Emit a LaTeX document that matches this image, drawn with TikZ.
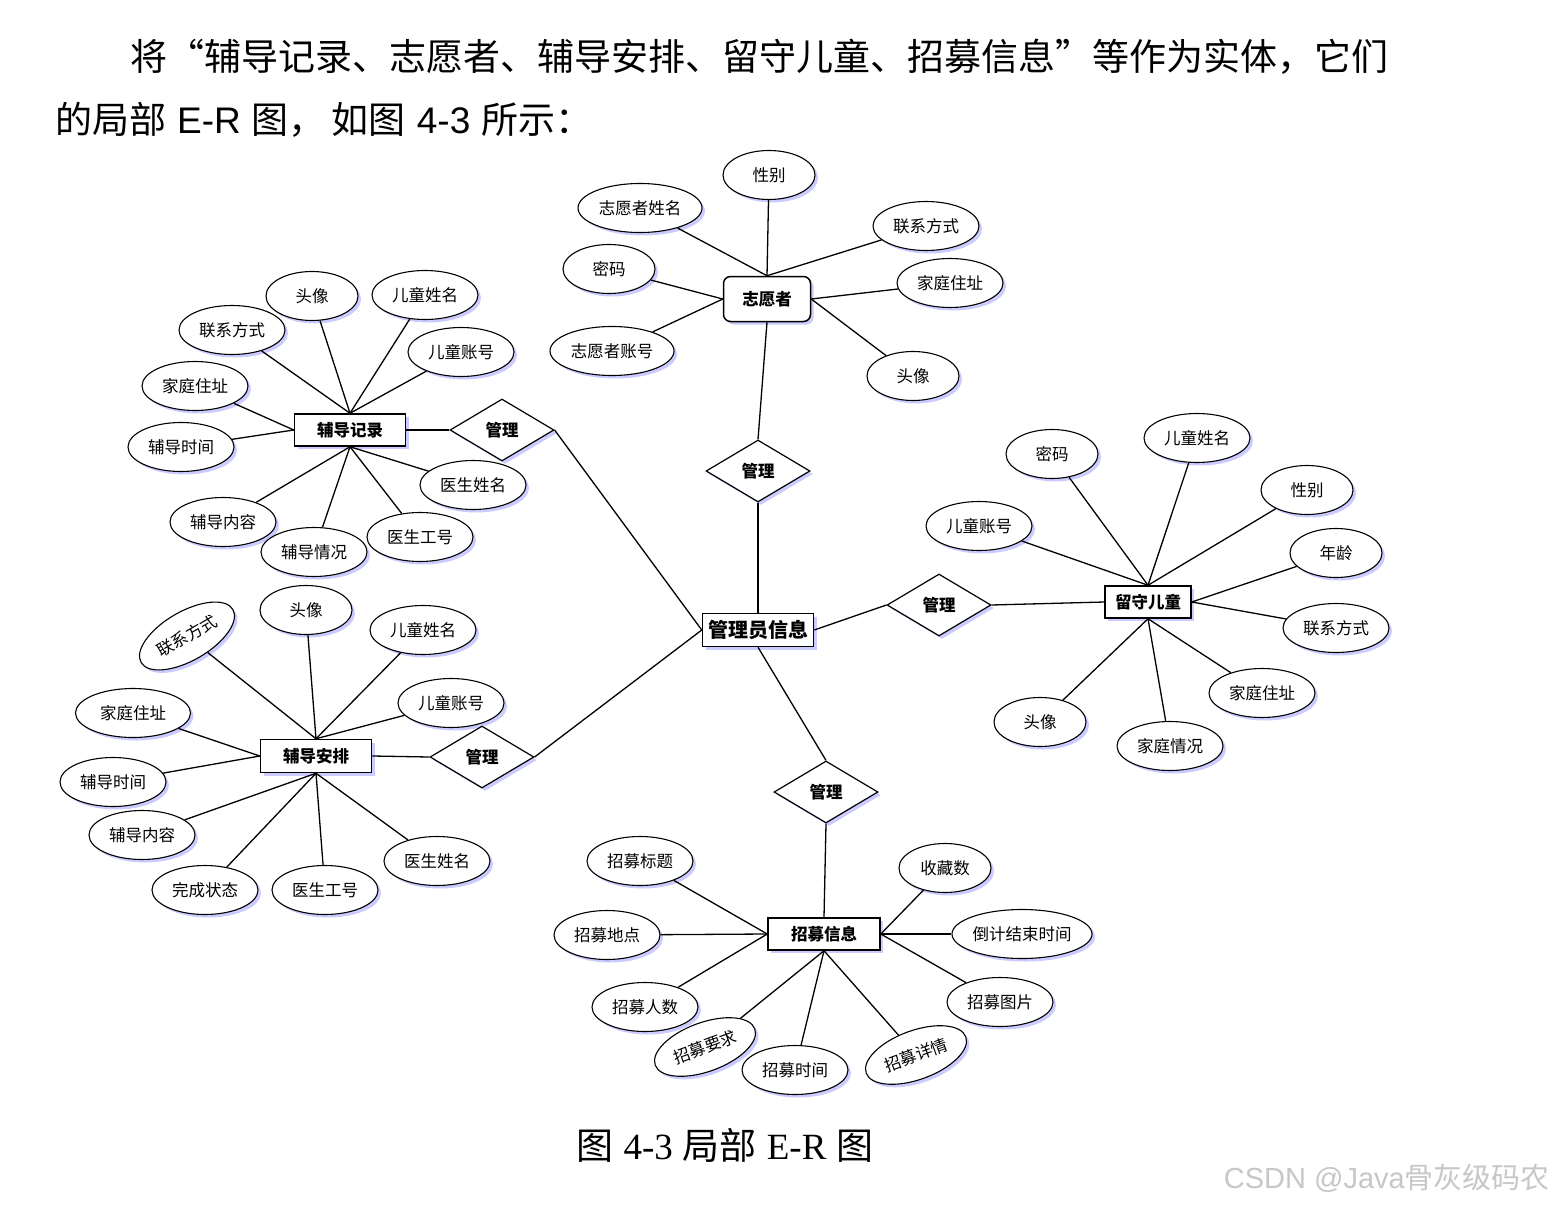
\documentclass[tikz,border=0pt]{standalone}
\usepackage{fontspec}
\setmainfont{Noto Sans CJK SC}
\newfontfamily\lsans{Liberation Sans}
\newfontfamily\lserif{Liberation Serif}
\newfontfamily\headfont{Noto Sans CJK SC}
\usetikzlibrary{shapes.geometric,shadows}
\tikzset{
  shd/.style={drop shadow={shadow xshift=3pt, shadow yshift=-3pt, fill=blue!45!white, opacity=0.45}},
  attr/.style={ellipse, draw, fill=white, line width=1.1pt, inner sep=0pt,
    minimum height=49, minimum width=106, font=\fontsize{16.5}{18}\selectfont, shd},
  attr2/.style={attr, minimum width=92},
  attr5/.style={attr, minimum width=124},
  ent/.style={rectangle, draw, fill=white, line width=1.5pt, minimum width=111,
    minimum height=32, inner sep=0pt, font=\bfseries\fontsize{16.5}{18}\selectfont, shd},
  rel/.style={diamond, draw, fill=white, line width=1.2pt, minimum width=104,
    minimum height=62, aspect=1.68, inner sep=0pt, font=\bfseries\fontsize{16.5}{18}\selectfont, shd},
  link/.style={line width=1.3pt},
}
\begin{document}
\begin{tikzpicture}[x=1pt,y=-1pt]
\fill[white] (0,0) rectangle (1554,1206);
\useasboundingbox (0,0) rectangle (1554,1206);

% header text
\node[anchor=west, inner sep=0pt, font=\headfont\fontsize{37}{40}\selectfont] (h1) at (130,57)
  {将“辅导记录、志愿者、辅导安排、留守儿童、招募信息”等作为实体，它们};
\node[anchor=west, inner sep=0pt, font=\fontsize{37}{40}\selectfont] (h2) at (55,120)
  {的局部\hspace{11pt}{\lsans E-R}\hspace{11pt}图，\hspace{6pt}如图\hspace{11pt}{\lsans 4-3}\hspace{11pt}所示：};

% central admin
\node[ent, minimum width=111, minimum height=33, font=\bfseries\fontsize{20}{22}\selectfont] (gl) at (758,630) {管理员信息};

% 志愿者
\node[ent, rounded corners=7pt, minimum width=87, minimum height=45] (zy) at (767,299) {志愿者};
\node[attr2] (zy1) at (769,175) {性别};
\node[attr5] (zy2) at (640,208) {志愿者姓名};
\node[attr] (zy3) at (926,226) {联系方式};
\node[attr2] (zy4) at (609,269) {密码};
\node[attr] (zy5) at (950,283) {家庭住址};
\node[attr5] (zy6) at (612,351) {志愿者账号};
\node[attr2] (zy7) at (913,376) {头像};
\node[rel] (r1) at (758,471) {管理};

% 辅导记录
\node[ent] (jl) at (350,430) {辅导记录};
\node[attr2] (jl1) at (312,296) {头像};
\node[attr] (jl2) at (425,295) {儿童姓名};
\node[attr] (jl3) at (232,330) {联系方式};
\node[attr] (jl4) at (461,352) {儿童账号};
\node[attr] (jl5) at (195,386) {家庭住址};
\node[attr] (jl6) at (181,447) {辅导时间};
\node[attr] (jl7) at (473,485) {医生姓名};
\node[attr] (jl8) at (223,522) {辅导内容};
\node[attr] (jl9) at (420,537) {医生工号};
\node[attr] (jl10) at (314,552) {辅导情况};
\node[rel] (r2) at (502,430) {管理};

% 辅导安排
\node[ent, minimum height=33] (ap) at (316,756) {辅导安排};
\node[attr, rotate=30] (ap1) at (187,636) {联系方式};
\node[attr2] (ap2) at (306,610) {头像};
\node[attr] (ap3) at (423,630) {儿童姓名};
\node[attr] (ap4) at (451,703) {儿童账号};
\node[attr, minimum width=115] (ap5) at (133,713) {家庭住址};
\node[attr] (ap6) at (113,782) {辅导时间};
\node[attr] (ap7) at (142,835) {辅导内容};
\node[attr] (ap8) at (205,890) {完成状态};
\node[attr] (ap9) at (325,890) {医生工号};
\node[attr] (ap10) at (437,861) {医生姓名};
\node[rel] (r3) at (482,757) {管理};

% 留守儿童
\node[ent, minimum width=86] (lc) at (1148,602) {留守儿童};
\node[attr2] (lc1) at (1052,454) {密码};
\node[attr] (lc2) at (1197,438) {儿童姓名};
\node[attr2] (lc3) at (1307,490) {性别};
\node[attr] (lc4) at (979,526) {儿童账号};
\node[attr2] (lc5) at (1336,553) {年龄};
\node[attr] (lc6) at (1336,628) {联系方式};
\node[attr] (lc7) at (1262,693) {家庭住址};
\node[attr2] (lc8) at (1040,722) {头像};
\node[attr] (lc9) at (1170,746) {家庭情况};
\node[rel] (r4) at (939,605) {管理};

% 招募信息
\node[ent, minimum width=112] (zm) at (824,934) {招募信息};
\node[attr] (zm1) at (640,861) {招募标题};
\node[attr] (zm2) at (607,935) {招募地点};
\node[attr] (zm3) at (645,1007) {招募人数};
\node[attr, rotate=20] (zm4) at (705,1047) {招募要求};
\node[attr] (zm5) at (795,1070) {招募时间};
\node[attr, rotate=20] (zm6) at (916,1055) {招募详情};
\node[attr2] (zm7) at (945,868) {收藏数};
\node[attr, minimum width=140] (zm8) at (1022,934) {倒计结束时间};
\node[attr] (zm9) at (1000,1002) {招募图片};
\node[rel] (r5) at (826,792) {管理};

% connectors
\draw[link] (zy.north) -- (zy1);
\draw[link] (zy.north) -- (zy2);
\draw[link] (zy.north) -- (zy3);
\draw[link] (zy.west) -- (zy4);
\draw[link] (zy.west) -- (zy6);
\draw[link] (zy.east) -- (zy5);
\draw[link] (zy.east) -- (zy7);
\draw[link] (zy.south) -- (r1.north);
\draw[link] (r1.south) -- (gl.north);

\foreach \t in {jl1,jl2,jl3,jl4} \draw[link] (jl.north) -- (\t);
\foreach \t in {jl5,jl6} \draw[link] (jl.west) -- (\t);
\foreach \t in {jl7,jl8,jl9,jl10} \draw[link] (jl.south) -- (\t);
\draw[link] (jl.east) -- (r2.west);
\draw[link] (r2.east) -- (gl.west);

\foreach \t in {ap1,ap2,ap3,ap4} \draw[link] (ap.north) -- (\t);
\foreach \t in {ap5,ap6} \draw[link] (ap.west) -- (\t);
\foreach \t in {ap7,ap8,ap9,ap10} \draw[link] (ap.south) -- (\t);
\draw[link] (ap.east) -- (r3.west);
\draw[link] (r3.east) -- (gl.west);

\foreach \t in {lc1,lc2,lc3,lc4} \draw[link] (lc.north) -- (\t);
\foreach \t in {lc5,lc6} \draw[link] (lc.east) -- (\t);
\foreach \t in {lc7,lc8,lc9} \draw[link] (lc.south) -- (\t);
\draw[link] (gl.east) -- (r4.west);
\draw[link] (r4.east) -- (lc.west);

\foreach \t in {zm1,zm2,zm3} \draw[link] (zm.west) -- (\t);
\foreach \t in {zm7,zm8,zm9} \draw[link] (zm.east) -- (\t);
\foreach \t in {zm4,zm5,zm6} \draw[link] (zm.south) -- (\t);
\draw[link] (gl.south) -- (r5.north);
\draw[link] (r5.south) -- (zm.north);

% caption and watermark
\node[inner sep=0pt, font=\fontsize{37}{40}\selectfont] (cap) at (725,1145)
  {图\hspace{10pt}{\lserif 4-3}\hspace{10pt}局部\hspace{10pt}{\lserif E-R}\hspace{10pt}图};
\node[anchor=east, inner sep=0pt, text=black!22, font=\fontsize{29}{32}\selectfont] (wm) at (1550,1178)
  {{\lsans CSDN @Java}骨灰级码农};
\end{tikzpicture}
\end{document}
